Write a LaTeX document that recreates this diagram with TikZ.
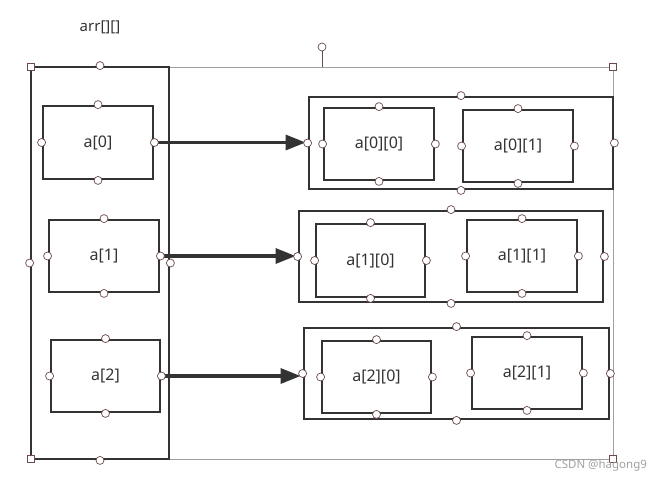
\documentclass[tikz,border=0pt]{standalone}
\usepackage{fontspec}
\setmainfont{Noto Sans}
\usetikzlibrary{arrows.meta}
\definecolor{ink}{HTML}{333333}
\definecolor{hdl}{HTML}{6A4A4A}
\definecolor{sel}{HTML}{A0A0A0}
\tikzset{
  box/.style={draw=ink, line width=2.8pt, inner sep=0pt, font=\fontsize{16}{19}\selectfont, text=ink},
  handle/.style={circle, draw=hdl, fill=white, line width=0.7pt, minimum size=8pt, inner sep=0pt},
  sq/.style={rectangle, draw=hdl, fill=white, line width=0.7pt, minimum size=7.5pt, inner sep=0pt},
  link/.style={draw=ink, line width=3.2pt, -{Triangle[length=20pt,width=15pt]}, shorten >=2pt},
  selbox/.style={draw=sel, line width=1pt}
}
\begin{document}
\begin{tikzpicture}[x=1pt,y=-1pt]
\useasboundingbox (0,0) rectangle (664,483);
% selection frame
\coordinate (s1) at (31,67);
\coordinate (s2) at (613,459);
\draw[selbox] (s1) rectangle (s2);
\node[font=\fontsize{15}{18}\selectfont, text=ink] (title) at (100,27) {arr[][]};
% left array
\node[box, minimum width=138pt, minimum height=392pt] (L) at (100,263) {};
\node[box, minimum width=110pt, minimum height=73pt] (a0) at (98,142.5) {a[0]};
\node[box, minimum width=110pt, minimum height=72pt] (a1) at (104,256) {a[1]};
\node[box, minimum width=109pt, minimum height=72pt] (a2) at (105.5,376) {a[2]};
% rows
\node[box, minimum width=304pt, minimum height=92pt] (r0) at (461,143) {};
\node[box, minimum width=110pt, minimum height=72pt] (a00) at (379,144) {a[0][0]};
\node[box, minimum width=110pt, minimum height=72pt] (a01) at (518,146) {a[0][1]};
\node[box, minimum width=304pt, minimum height=91pt] (r1) at (451,256.5) {};
\node[box, minimum width=109pt, minimum height=73pt] (a10) at (370.5,260.5) {a[1][0]};
\node[box, minimum width=110pt, minimum height=72pt] (a11) at (522,256) {a[1][1]};
\node[box, minimum width=305pt, minimum height=91pt] (r2) at (456.5,373.5) {};
\node[box, minimum width=109pt, minimum height=72pt] (a20) at (376.5,377) {a[2][0]};
\node[box, minimum width=110pt, minimum height=72pt] (a21) at (527,373) {a[2][1]};
% arrows
\draw[link] (a0.east) -- (a0.east -| r0.west);
\draw[link] (a1.east) -- (a1.east -| r1.west);
\draw[link] (a2.east) -- (a2.east -| r2.west);
% rotation handle
\coordinate (rt) at (322,67);
\node[handle] (rot) at (322,47) {};
\draw[draw=hdl, line width=0.8pt] (rot) -- (rt);
% box handles
\foreach \b in {L,a0,a1,a2,r0,r1,r2,a00,a01,a10,a11,a20,a21}{
  \foreach \p in {north,south,east,west}{
    \node[handle] (h-\b-\p) at (\b.\p) {};
  }
}
% selection corners
\node[sq] (c1) at (31,67) {};
\node[sq] (c2) at (613,67) {};
\node[sq] (c3) at (31,459) {};
\node[sq] (c4) at (613,459) {};
\node[font=\fontsize{11.5}{13}\selectfont, text=sel, anchor=west] (wm) at (551,466) {CSDN @hagong9};
\end{tikzpicture}
\end{document}
